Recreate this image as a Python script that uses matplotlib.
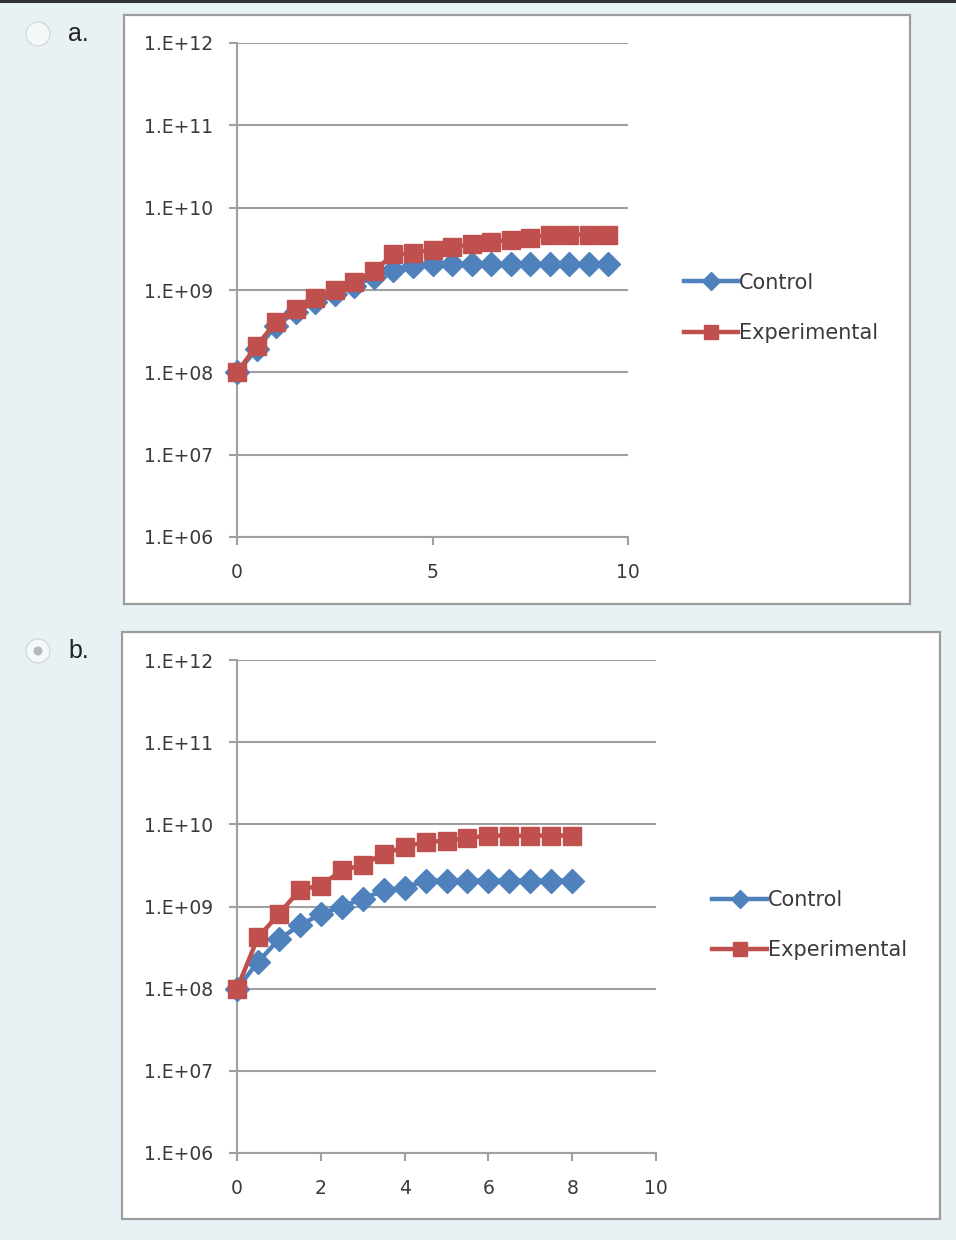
import matplotlib
matplotlib.use('Agg')
import matplotlib.pyplot as plt
from matplotlib.patches import Rectangle, Circle

# ── Data ─────────────────────────────────────────────────────────────────────
x_a = [0, 0.5, 1, 1.5, 2, 2.5, 3, 3.5, 4, 4.5, 5, 5.5, 6, 6.5, 7, 7.5, 8, 8.5, 9, 9.5]
control_a = [1.0e8, 1.9e8, 3.7e8, 5.4e8, 7.2e8, 9.0e8, 1.12e9, 1.45e9, 1.75e9, 1.95e9,
             2.05e9, 2.05e9, 2.05e9, 2.05e9, 2.05e9, 2.05e9, 2.05e9, 2.05e9, 2.05e9, 2.05e9]
exper_a = [1.0e8, 2.1e8, 4.1e8, 5.9e8, 7.9e8, 1.0e9, 1.25e9, 1.7e9, 2.7e9, 2.8e9,
           3.1e9, 3.3e9, 3.6e9, 3.8e9, 4.1e9, 4.3e9, 4.7e9, 4.7e9, 4.7e9, 4.7e9]

x_b = [0, 0.5, 1, 1.5, 2, 2.5, 3, 3.5, 4, 4.5, 5, 5.5, 6, 6.5, 7, 7.5, 8]
control_b = [1.0e8, 2.1e8, 4.0e8, 5.9e8, 8.1e8, 1.0e9, 1.24e9, 1.57e9, 1.7e9,
             2.07e9, 2.07e9, 2.07e9, 2.07e9, 2.07e9, 2.07e9, 2.07e9, 2.07e9]
exper_b = [1.0e8, 4.2e8, 8.1e8, 1.6e9, 1.8e9, 2.75e9, 3.2e9, 4.4e9, 5.3e9,
           6.1e9, 6.3e9, 6.8e9, 7.3e9, 7.3e9, 7.3e9, 7.3e9, 7.3e9]

y_ticks = [1e6, 1e7, 1e8, 1e9, 1e10, 1e11, 1e12]
y_labels = ['1.E+06', '1.E+07', '1.E+08', '1.E+09', '1.E+10', '1.E+11', '1.E+12']
xticks_a = [0, 5, 10]
xticks_b = [0, 2, 4, 6, 8, 10]

# ── Style ────────────────────────────────────────────────────────────────────
PAGE = '#e8f2f4'
BLUE = '#4f81bd'
RED = '#c0504d'
GRID = '#a0a0a0'
TXT = '#3a3a3a'
FONT = ['Liberation Sans Narrow', 'DejaVu Sans']

W, H = 956, 1240
fig = plt.figure(figsize=(W / 100, H / 100), dpi=100)
fig.patch.set_facecolor(PAGE)
INCH = fig.dpi_scale_trans   # positions given in pixels / 100


def fx(px):
    return px / W


def fy(py):
    return 1 - py / H


# dark strip on top
fig.add_artist(Rectangle((0, (H - 3) / 100), W / 100, 0.03, transform=INCH,
                         facecolor='#2f3336', edgecolor='none', zorder=-5))


def panel(box, axbox, xs, ctrl, expe, xticks, leg_xy, letter, letter_y, selected):
    bx0, by0, bx1, by1 = box
    fig.add_artist(Rectangle((bx0 / 100, (H - by1) / 100), (bx1 - bx0) / 100,
                             (by1 - by0) / 100, transform=INCH, facecolor='white',
                             edgecolor='#9c9c9c', linewidth=1.6, zorder=-5))
    # radio + letter
    cy = (H - letter_y) / 100
    fig.add_artist(Circle((0.38, cy), 0.12, transform=INCH,
                          facecolor='#f4f8f9', edgecolor='#d3dadc', linewidth=1.0, zorder=-4))
    if selected:
        fig.add_artist(Circle((0.38, cy), 0.045, transform=INCH,
                              facecolor='#b4b8ba', edgecolor='none', zorder=-3))
    fig.text(fx(68), fy(letter_y), letter, fontsize=18, color='#222222',
             ha='left', va='center', family=['Liberation Sans', 'DejaVu Sans'])

    l, t, r, b = axbox
    ax = fig.add_axes([fx(l), fy(b), fx(r - l), (b - t) / H])
    ax.set_facecolor('none')
    ax.plot(xs, ctrl, color=BLUE, lw=3.2, marker='D', ms=12, mec=BLUE, label='Control',
            zorder=3, clip_on=False)
    ax.plot(xs, expe, color=RED, lw=3.2, marker='s', ms=13, mec=RED, label='Experimental',
            zorder=4, clip_on=False)
    ax.set_yscale('log')
    ax.set_ylim(1e6, 1e12)
    ax.set_xlim(0, 10)
    ax.set_yticks(y_ticks)
    ax.set_yticklabels(y_labels)
    ax.minorticks_off()
    ax.set_xticks(xticks)
    ax.set_xticklabels([str(v) for v in xticks])
    ax.yaxis.grid(True, color=GRID, lw=1.5)
    ax.set_axisbelow(True)
    for s in ('top', 'right'):
        ax.spines[s].set_visible(False)
    for s in ('left', 'bottom'):
        ax.spines[s].set_color(GRID)
        ax.spines[s].set_linewidth(1.5)
    ax.tick_params(axis='y', length=6, width=1.5, color=GRID, pad=11)
    ax.tick_params(axis='x', length=6, width=1.5, color=GRID, pad=13)
    for lab in ax.get_xticklabels() + ax.get_yticklabels():
        lab.set_family(FONT)
        lab.set_fontsize(13.5)
        lab.set_color(TXT)
    leg = ax.legend(loc='center left', bbox_to_anchor=leg_xy, frameon=False,
                    handlelength=2.6, handletextpad=0.05, labelspacing=1.45,
                    markerscale=0.75, prop={'family': FONT, 'size': 15})
    for tx in leg.get_texts():
        tx.set_color(TXT)
    return ax


# panel a: axes 0 at x=237, 10 at x=628; 1e12 at y=43, 1e6 at y=537
panel((124, 15, 910, 604), (237, 43, 628, 537), x_a, control_a, exper_a, xticks_a,
      (1.095, 0.464), 'a.', 34, False)
# panel b: axes 0 at x=237, 10 at x=656; 1e12 at y=660, 1e6 at y=1153
panel((122, 632, 940, 1219), (237, 660, 656, 1153), x_b, control_b, exper_b, xticks_b,
      (1.09, 0.462), 'b.', 651, True)

fig.savefig('out.png', dpi=100, facecolor=PAGE)
